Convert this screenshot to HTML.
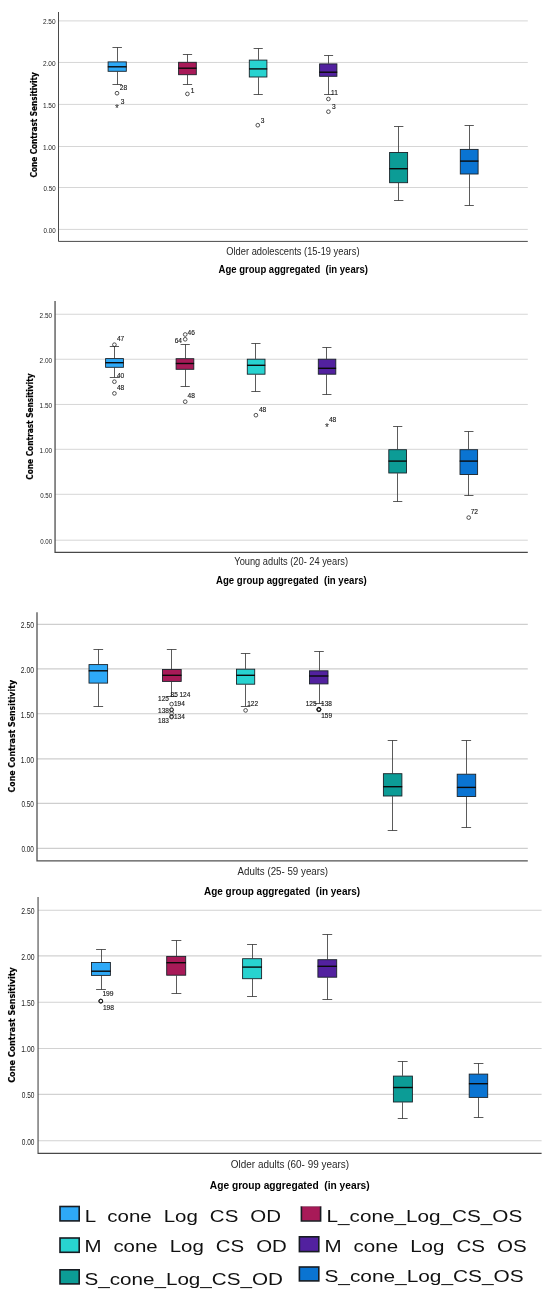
<!DOCTYPE html>
<html lang="en"><head><meta charset="utf-8"><title>Cone Contrast Sensitivity by age group</title>
<style>html,body{margin:0;padding:0;background:#fff}svg{display:block}text{font-family:"Liberation Sans", sans-serif}text.yl{font-family:"DejaVu Sans Condensed","DejaVu Sans","Liberation Sans",sans-serif}</style></head><body>
<svg width="550" height="1297" viewBox="0 0 550 1297">
<rect width="550" height="1297" fill="#fff"/>
<g>
<line x1="58.5" y1="229.40" x2="527.8" y2="229.40" stroke="#d6d6d6" stroke-width="1.00"/>
<text x="43.5" y="232.60" font-size="7.3" fill="#1c1c1c" textLength="12.1" lengthAdjust="spacingAndGlyphs">0.00</text>
<line x1="58.5" y1="187.50" x2="527.8" y2="187.50" stroke="#d6d6d6" stroke-width="1.00"/>
<text x="43.5" y="190.70" font-size="7.3" fill="#1c1c1c" textLength="12.1" lengthAdjust="spacingAndGlyphs">0.50</text>
<line x1="58.5" y1="146.50" x2="527.8" y2="146.50" stroke="#d6d6d6" stroke-width="1.00"/>
<text x="42.9" y="149.70" font-size="7.3" fill="#1c1c1c" textLength="12.7" lengthAdjust="spacingAndGlyphs">1.00</text>
<line x1="58.5" y1="104.40" x2="527.8" y2="104.40" stroke="#d6d6d6" stroke-width="1.00"/>
<text x="42.9" y="107.60" font-size="7.3" fill="#1c1c1c" textLength="12.7" lengthAdjust="spacingAndGlyphs">1.50</text>
<line x1="58.5" y1="62.45" x2="527.8" y2="62.45" stroke="#d6d6d6" stroke-width="1.00"/>
<text x="42.9" y="65.65" font-size="7.3" fill="#1c1c1c" textLength="12.7" lengthAdjust="spacingAndGlyphs">2.00</text>
<line x1="58.5" y1="20.90" x2="527.8" y2="20.90" stroke="#d6d6d6" stroke-width="1.00"/>
<text x="42.9" y="24.10" font-size="7.3" fill="#1c1c1c" textLength="12.7" lengthAdjust="spacingAndGlyphs">2.50</text>
<path d="M58.50 12.00V241.40H527.80" fill="none" stroke="#4a4a4a" stroke-width="1.00"/>
<path d="M117.50 47.50V61.60M117.50 71.60V84.50M112.46 47.50H121.94M112.46 84.50H121.94" stroke="#2c2c2c" stroke-width="0.78" fill="none"/>
<rect x="108.10" y="61.90" width="18.20" height="9.40" fill="#2ea9f7" stroke="#1a2228" stroke-width="0.9"/>
<line x1="107.80" y1="66.80" x2="126.60" y2="66.80" stroke="#0a0a0a" stroke-width="1.4"/>
<path d="M187.50 54.50V62.00M187.50 75.00V84.50M182.89 54.50H192.11M182.89 84.50H192.11" stroke="#2c2c2c" stroke-width="0.78" fill="none"/>
<rect x="178.60" y="62.30" width="17.70" height="12.40" fill="#a81a58" stroke="#1a2228" stroke-width="0.9"/>
<line x1="178.30" y1="68.20" x2="196.60" y2="68.20" stroke="#0a0a0a" stroke-width="1.4"/>
<path d="M258.50 48.50V59.80M258.50 77.30V94.50M253.61 48.50H262.79M253.61 94.50H262.79" stroke="#2c2c2c" stroke-width="0.78" fill="none"/>
<rect x="249.30" y="60.10" width="17.60" height="16.90" fill="#28d3d0" stroke="#1a2228" stroke-width="0.9"/>
<line x1="249.00" y1="68.90" x2="267.20" y2="68.90" stroke="#0a0a0a" stroke-width="1.4"/>
<path d="M328.50 55.50V63.60M328.50 76.60V94.50M324.09 55.50H333.11M324.09 94.50H333.11" stroke="#2c2c2c" stroke-width="0.78" fill="none"/>
<rect x="319.60" y="63.90" width="17.30" height="12.40" fill="#52219f" stroke="#1a2228" stroke-width="0.9"/>
<line x1="319.30" y1="72.20" x2="337.20" y2="72.20" stroke="#0a0a0a" stroke-width="1.4"/>
<path d="M398.50 126.50V152.20M398.50 183.00V200.50M394.01 126.50H403.39M394.01 200.50H403.39" stroke="#2c2c2c" stroke-width="0.78" fill="none"/>
<rect x="389.60" y="152.50" width="18.00" height="30.20" fill="#0c9c96" stroke="#1a2228" stroke-width="0.9"/>
<line x1="389.30" y1="168.70" x2="407.90" y2="168.70" stroke="#0a0a0a" stroke-width="1.4"/>
<path d="M469.50 125.50V149.10M469.50 174.30V205.50M464.56 125.50H473.84M464.56 205.50H473.84" stroke="#2c2c2c" stroke-width="0.78" fill="none"/>
<rect x="460.30" y="149.40" width="17.80" height="24.60" fill="#0a74d2" stroke="#1a2228" stroke-width="0.9"/>
<line x1="460.00" y1="161.10" x2="478.40" y2="161.10" stroke="#0a0a0a" stroke-width="1.4"/>
<circle cx="117.00" cy="93.20" r="1.85" fill="none" stroke="#2a2a2a" stroke-width="0.8"/>
<text x="119.80" y="89.85" font-size="7.39" fill="#161616" stroke="#161616" stroke-width="0.14" textLength="7.34" lengthAdjust="spacingAndGlyphs">28</text>
<text x="117.00" y="111.90" font-size="10" text-anchor="middle" fill="#222">*</text>
<text x="120.70" y="103.65" font-size="7.39" fill="#161616" stroke="#161616" stroke-width="0.14" textLength="3.67" lengthAdjust="spacingAndGlyphs">3</text>
<circle cx="187.40" cy="93.90" r="1.85" fill="none" stroke="#2a2a2a" stroke-width="0.8"/>
<text x="190.80" y="92.65" font-size="7.39" fill="#161616" stroke="#161616" stroke-width="0.14" textLength="3.67" lengthAdjust="spacingAndGlyphs">1</text>
<circle cx="257.80" cy="125.20" r="1.85" fill="none" stroke="#2a2a2a" stroke-width="0.8"/>
<text x="260.70" y="123.25" font-size="7.39" fill="#161616" stroke="#161616" stroke-width="0.14" textLength="3.67" lengthAdjust="spacingAndGlyphs">3</text>
<circle cx="328.40" cy="99.00" r="1.85" fill="none" stroke="#2a2a2a" stroke-width="0.8"/>
<text x="331.10" y="95.45" font-size="7.39" fill="#161616" stroke="#161616" stroke-width="0.14" textLength="6.85" lengthAdjust="spacingAndGlyphs">11</text>
<circle cx="328.40" cy="111.70" r="1.85" fill="none" stroke="#2a2a2a" stroke-width="0.8"/>
<text x="332.10" y="109.45" font-size="7.39" fill="#161616" stroke="#161616" stroke-width="0.14" textLength="3.67" lengthAdjust="spacingAndGlyphs">3</text>
<text x="226.3" y="254.7" font-size="10.8" fill="#262626" textLength="133.2" lengthAdjust="spacingAndGlyphs">Older adolescents (15-19 years)</text>
<text x="218.6" y="272.7" font-size="11.1" font-weight="bold" fill="#000" textLength="149.3" lengthAdjust="spacingAndGlyphs" style="white-space:pre">Age group aggregated  (in years)</text>
<text transform="translate(37.3 177.5) rotate(-90)" font-size="8.1" class="yl" font-weight="bold" fill="#000" stroke="#000" stroke-width="0.15" textLength="105.3" lengthAdjust="spacingAndGlyphs">Cone Contrast Sensitivity</text>
</g>
<g>
<line x1="55.0" y1="540.20" x2="527.8" y2="540.20" stroke="#d6d6d6" stroke-width="1.00"/>
<text x="40.2" y="543.50" font-size="8.1" fill="#1c1c1c" textLength="12.0" lengthAdjust="spacingAndGlyphs">0.00</text>
<line x1="55.0" y1="494.30" x2="527.8" y2="494.30" stroke="#d6d6d6" stroke-width="1.00"/>
<text x="40.2" y="497.60" font-size="8.1" fill="#1c1c1c" textLength="12.0" lengthAdjust="spacingAndGlyphs">0.50</text>
<line x1="55.0" y1="449.30" x2="527.8" y2="449.30" stroke="#d6d6d6" stroke-width="1.00"/>
<text x="39.6" y="452.60" font-size="8.1" fill="#1c1c1c" textLength="12.6" lengthAdjust="spacingAndGlyphs">1.00</text>
<line x1="55.0" y1="404.45" x2="527.8" y2="404.45" stroke="#d6d6d6" stroke-width="1.00"/>
<text x="39.6" y="407.75" font-size="8.1" fill="#1c1c1c" textLength="12.6" lengthAdjust="spacingAndGlyphs">1.50</text>
<line x1="55.0" y1="359.25" x2="527.8" y2="359.25" stroke="#d6d6d6" stroke-width="1.00"/>
<text x="39.6" y="362.55" font-size="8.1" fill="#1c1c1c" textLength="12.6" lengthAdjust="spacingAndGlyphs">2.00</text>
<line x1="55.0" y1="314.25" x2="527.8" y2="314.25" stroke="#d6d6d6" stroke-width="1.00"/>
<text x="39.6" y="317.55" font-size="8.1" fill="#1c1c1c" textLength="12.6" lengthAdjust="spacingAndGlyphs">2.50</text>
<path d="M55.05 301.00V552.40H527.80" fill="none" stroke="#484848" stroke-width="1.25"/>
<path d="M114.50 346.50V358.30M114.50 367.60V377.50M109.76 346.50H119.04M109.76 377.50H119.04" stroke="#2c2c2c" stroke-width="0.78" fill="none"/>
<rect x="105.60" y="358.60" width="17.80" height="8.70" fill="#2ea9f7" stroke="#1a2228" stroke-width="0.9"/>
<line x1="105.30" y1="362.70" x2="123.70" y2="362.70" stroke="#0a0a0a" stroke-width="1.4"/>
<path d="M185.50 344.50V358.40M185.50 369.60V386.50M180.59 344.50H189.81M180.59 386.50H189.81" stroke="#2c2c2c" stroke-width="0.78" fill="none"/>
<rect x="176.10" y="358.70" width="17.70" height="10.60" fill="#a81a58" stroke="#1a2228" stroke-width="0.9"/>
<line x1="175.80" y1="363.50" x2="194.10" y2="363.50" stroke="#0a0a0a" stroke-width="1.4"/>
<path d="M255.50 343.50V358.90M255.50 374.50V391.50M251.29 343.50H260.51M251.29 391.50H260.51" stroke="#2c2c2c" stroke-width="0.78" fill="none"/>
<rect x="247.30" y="359.20" width="17.70" height="15.00" fill="#28d3d0" stroke="#1a2228" stroke-width="0.9"/>
<line x1="247.00" y1="365.30" x2="265.30" y2="365.30" stroke="#0a0a0a" stroke-width="1.4"/>
<path d="M326.50 347.50V358.90M326.50 374.50V394.50M322.34 347.50H331.46M322.34 394.50H331.46" stroke="#2c2c2c" stroke-width="0.78" fill="none"/>
<rect x="318.30" y="359.20" width="17.50" height="15.00" fill="#52219f" stroke="#1a2228" stroke-width="0.9"/>
<line x1="318.00" y1="368.30" x2="336.10" y2="368.30" stroke="#0a0a0a" stroke-width="1.4"/>
<path d="M397.50 426.50V449.40M397.50 473.30V501.50M393.09 426.50H402.31M393.09 501.50H402.31" stroke="#2c2c2c" stroke-width="0.78" fill="none"/>
<rect x="388.80" y="449.70" width="17.70" height="23.30" fill="#0c9c96" stroke="#1a2228" stroke-width="0.9"/>
<line x1="388.50" y1="461.10" x2="406.80" y2="461.10" stroke="#0a0a0a" stroke-width="1.4"/>
<path d="M468.50 431.50V449.40M468.50 474.80V495.50M464.31 431.50H473.49M464.31 495.50H473.49" stroke="#2c2c2c" stroke-width="0.78" fill="none"/>
<rect x="460.00" y="449.70" width="17.60" height="24.80" fill="#0a74d2" stroke="#1a2228" stroke-width="0.9"/>
<line x1="459.70" y1="461.10" x2="477.90" y2="461.10" stroke="#0a0a0a" stroke-width="1.4"/>
<circle cx="114.40" cy="344.70" r="1.85" fill="none" stroke="#2a2a2a" stroke-width="0.8"/>
<text x="116.90" y="340.75" font-size="7.39" fill="#161616" stroke="#161616" stroke-width="0.14" textLength="7.34" lengthAdjust="spacingAndGlyphs">47</text>
<circle cx="114.40" cy="381.70" r="1.85" fill="none" stroke="#2a2a2a" stroke-width="0.8"/>
<text x="116.90" y="378.25" font-size="7.39" fill="#161616" stroke="#161616" stroke-width="0.14" textLength="7.34" lengthAdjust="spacingAndGlyphs">40</text>
<circle cx="114.40" cy="393.40" r="1.85" fill="none" stroke="#2a2a2a" stroke-width="0.8"/>
<text x="116.90" y="389.95" font-size="7.39" fill="#161616" stroke="#161616" stroke-width="0.14" textLength="7.34" lengthAdjust="spacingAndGlyphs">48</text>
<circle cx="185.20" cy="334.50" r="1.85" fill="none" stroke="#2a2a2a" stroke-width="0.8"/>
<text x="187.50" y="335.35" font-size="7.39" fill="#161616" stroke="#161616" stroke-width="0.14" textLength="7.34" lengthAdjust="spacingAndGlyphs">46</text>
<circle cx="185.20" cy="339.30" r="1.85" fill="none" stroke="#2a2a2a" stroke-width="0.8"/>
<text x="174.70" y="343.05" font-size="7.39" fill="#161616" stroke="#161616" stroke-width="0.14" textLength="7.34" lengthAdjust="spacingAndGlyphs">64</text>
<circle cx="185.20" cy="401.70" r="1.85" fill="none" stroke="#2a2a2a" stroke-width="0.8"/>
<text x="187.50" y="398.25" font-size="7.39" fill="#161616" stroke="#161616" stroke-width="0.14" textLength="7.34" lengthAdjust="spacingAndGlyphs">48</text>
<circle cx="255.90" cy="415.20" r="1.85" fill="none" stroke="#2a2a2a" stroke-width="0.8"/>
<text x="258.90" y="411.95" font-size="7.39" fill="#161616" stroke="#161616" stroke-width="0.14" textLength="7.34" lengthAdjust="spacingAndGlyphs">48</text>
<text x="326.90" y="430.90" font-size="10" text-anchor="middle" fill="#222">*</text>
<text x="328.90" y="421.85" font-size="7.39" fill="#161616" stroke="#161616" stroke-width="0.14" textLength="7.34" lengthAdjust="spacingAndGlyphs">48</text>
<circle cx="468.70" cy="517.60" r="1.85" fill="none" stroke="#2a2a2a" stroke-width="0.8"/>
<text x="470.70" y="513.65" font-size="7.39" fill="#161616" stroke="#161616" stroke-width="0.14" textLength="7.34" lengthAdjust="spacingAndGlyphs">72</text>
<text x="234.3" y="565.0" font-size="10.7" fill="#262626" textLength="113.7" lengthAdjust="spacingAndGlyphs">Young adults (20- 24 years)</text>
<text x="216.0" y="584.0" font-size="10.8" font-weight="bold" fill="#000" textLength="150.7" lengthAdjust="spacingAndGlyphs" style="white-space:pre">Age group aggregated  (in years)</text>
<text transform="translate(33.2 479.7) rotate(-90)" font-size="8.2" class="yl" font-weight="bold" fill="#000" stroke="#000" stroke-width="0.15" textLength="106.2" lengthAdjust="spacingAndGlyphs">Cone Contrast Sensitivity</text>
</g>
<g>
<line x1="37.0" y1="848.45" x2="527.8" y2="848.45" stroke="#cecece" stroke-width="1.20"/>
<text x="21.4" y="852.35" font-size="8.3" fill="#1c1c1c" textLength="12.5" lengthAdjust="spacingAndGlyphs">0.00</text>
<line x1="37.0" y1="803.35" x2="527.8" y2="803.35" stroke="#cecece" stroke-width="1.20"/>
<text x="21.4" y="807.25" font-size="8.3" fill="#1c1c1c" textLength="12.5" lengthAdjust="spacingAndGlyphs">0.50</text>
<line x1="37.0" y1="758.90" x2="527.8" y2="758.90" stroke="#cecece" stroke-width="1.20"/>
<text x="20.8" y="762.80" font-size="8.3" fill="#1c1c1c" textLength="13.1" lengthAdjust="spacingAndGlyphs">1.00</text>
<line x1="37.0" y1="713.75" x2="527.8" y2="713.75" stroke="#cecece" stroke-width="1.20"/>
<text x="20.8" y="717.65" font-size="8.3" fill="#1c1c1c" textLength="13.1" lengthAdjust="spacingAndGlyphs">1.50</text>
<line x1="37.0" y1="668.90" x2="527.8" y2="668.90" stroke="#cecece" stroke-width="1.20"/>
<text x="20.8" y="672.80" font-size="8.3" fill="#1c1c1c" textLength="13.1" lengthAdjust="spacingAndGlyphs">2.00</text>
<line x1="37.0" y1="624.30" x2="527.8" y2="624.30" stroke="#cecece" stroke-width="1.20"/>
<text x="20.8" y="628.20" font-size="8.3" fill="#1c1c1c" textLength="13.1" lengthAdjust="spacingAndGlyphs">2.50</text>
<path d="M37.00 612.30V860.95H527.80" fill="none" stroke="#525252" stroke-width="1.30"/>
<path d="M98.50 649.50V664.30M98.50 683.40V706.50M93.46 649.50H103.14M93.46 706.50H103.14" stroke="#2c2c2c" stroke-width="0.78" fill="none"/>
<rect x="89.00" y="664.60" width="18.60" height="18.50" fill="#2ea9f7" stroke="#1a2228" stroke-width="0.9"/>
<line x1="88.70" y1="670.80" x2="107.90" y2="670.80" stroke="#0a0a0a" stroke-width="1.4"/>
<path d="M171.50 649.50V669.20M171.50 681.70V696.50M166.84 649.50H176.56M166.84 696.50H176.56" stroke="#2c2c2c" stroke-width="0.78" fill="none"/>
<rect x="162.50" y="669.50" width="18.70" height="11.90" fill="#a81a58" stroke="#1a2228" stroke-width="0.9"/>
<line x1="162.20" y1="675.30" x2="181.50" y2="675.30" stroke="#0a0a0a" stroke-width="1.4"/>
<path d="M245.50 653.50V668.90M245.50 684.50V706.50M240.86 653.50H250.34M240.86 706.50H250.34" stroke="#2c2c2c" stroke-width="0.78" fill="none"/>
<rect x="236.50" y="669.20" width="18.20" height="15.00" fill="#28d3d0" stroke="#1a2228" stroke-width="0.9"/>
<line x1="236.20" y1="675.30" x2="255.00" y2="675.30" stroke="#0a0a0a" stroke-width="1.4"/>
<path d="M319.50 651.50V670.50M319.50 684.20V703.50M314.19 651.50H323.81M314.19 703.50H323.81" stroke="#2c2c2c" stroke-width="0.78" fill="none"/>
<rect x="309.50" y="670.80" width="18.50" height="13.10" fill="#52219f" stroke="#1a2228" stroke-width="0.9"/>
<line x1="309.20" y1="676.00" x2="328.30" y2="676.00" stroke="#0a0a0a" stroke-width="1.4"/>
<path d="M392.50 740.50V773.40M392.50 796.30V830.50M387.69 740.50H397.31M387.69 830.50H397.31" stroke="#2c2c2c" stroke-width="0.78" fill="none"/>
<rect x="383.40" y="773.70" width="18.50" height="22.30" fill="#0c9c96" stroke="#1a2228" stroke-width="0.9"/>
<line x1="383.10" y1="786.70" x2="402.20" y2="786.70" stroke="#0a0a0a" stroke-width="1.4"/>
<path d="M466.50 740.50V773.90M466.50 796.80V827.50M461.49 740.50H471.11M461.49 827.50H471.11" stroke="#2c2c2c" stroke-width="0.78" fill="none"/>
<rect x="457.20" y="774.20" width="18.50" height="22.30" fill="#0a74d2" stroke="#1a2228" stroke-width="0.9"/>
<line x1="456.90" y1="787.40" x2="476.00" y2="787.40" stroke="#0a0a0a" stroke-width="1.4"/>
<circle cx="171.60" cy="704.10" r="1.85" fill="none" stroke="#2a2a2a" stroke-width="0.8"/>
<text x="174.00" y="705.91" font-size="7.28" fill="#161616" stroke="#161616" stroke-width="0.14" textLength="10.84" lengthAdjust="spacingAndGlyphs">194</text>
<circle cx="171.60" cy="709.60" r="1.85" fill="none" stroke="#2a2a2a" stroke-width="0.8"/>
<text x="158.10" y="713.11" font-size="7.28" fill="#161616" stroke="#161616" stroke-width="0.14" textLength="10.84" lengthAdjust="spacingAndGlyphs">138</text>
<circle cx="171.60" cy="710.10" r="1.85" fill="none" stroke="#2a2a2a" stroke-width="0.8"/>
<circle cx="171.60" cy="713.30" r="1.85" fill="none" stroke="#2a2a2a" stroke-width="0.8"/>
<circle cx="171.60" cy="716.50" r="1.85" fill="none" stroke="#2a2a2a" stroke-width="0.8"/>
<text x="174.00" y="719.11" font-size="7.28" fill="#161616" stroke="#161616" stroke-width="0.14" textLength="10.84" lengthAdjust="spacingAndGlyphs">134</text>
<circle cx="171.60" cy="717.10" r="1.85" fill="none" stroke="#2a2a2a" stroke-width="0.8"/>
<text x="158.10" y="723.01" font-size="7.28" fill="#161616" stroke="#161616" stroke-width="0.14" textLength="10.84" lengthAdjust="spacingAndGlyphs">183</text>
<text x="170.60" y="696.51" font-size="7.28" fill="#161616" stroke="#161616" stroke-width="0.14" textLength="7.23" lengthAdjust="spacingAndGlyphs">85</text>
<text x="179.50" y="697.21" font-size="7.28" fill="#161616" stroke="#161616" stroke-width="0.14" textLength="10.84" lengthAdjust="spacingAndGlyphs">124</text>
<text x="158.10" y="700.81" font-size="7.28" fill="#161616" stroke="#161616" stroke-width="0.14" textLength="10.84" lengthAdjust="spacingAndGlyphs">125</text>
<circle cx="245.60" cy="710.40" r="1.85" fill="none" stroke="#2a2a2a" stroke-width="0.8"/>
<text x="247.20" y="706.41" font-size="7.28" fill="#161616" stroke="#161616" stroke-width="0.14" textLength="10.84" lengthAdjust="spacingAndGlyphs">122</text>
<circle cx="318.90" cy="709.20" r="1.9" fill="none" stroke="#1a1a1a" stroke-width="0.95"/>
<text x="305.70" y="705.71" font-size="7.28" fill="#161616" stroke="#161616" stroke-width="0.14" textLength="10.84" lengthAdjust="spacingAndGlyphs">125</text>
<circle cx="318.90" cy="709.50" r="1.9" fill="none" stroke="#1a1a1a" stroke-width="0.95"/>
<text x="321.10" y="705.71" font-size="7.28" fill="#161616" stroke="#161616" stroke-width="0.14" textLength="10.84" lengthAdjust="spacingAndGlyphs">138</text>
<circle cx="318.90" cy="709.80" r="1.9" fill="none" stroke="#1a1a1a" stroke-width="0.95"/>
<text x="321.20" y="717.51" font-size="7.28" fill="#161616" stroke="#161616" stroke-width="0.14" textLength="10.84" lengthAdjust="spacingAndGlyphs">159</text>
<text x="237.6" y="874.7" font-size="11.2" fill="#262626" textLength="90.5" lengthAdjust="spacingAndGlyphs">Adults (25- 59 years)</text>
<text x="204.0" y="895.0" font-size="11.0" font-weight="bold" fill="#000" textLength="156.2" lengthAdjust="spacingAndGlyphs" style="white-space:pre">Age group aggregated  (in years)</text>
<text transform="translate(14.5 792.5) rotate(-90)" font-size="9.0" class="yl" font-weight="bold" fill="#000" stroke="#000" stroke-width="0.15" textLength="112.5" lengthAdjust="spacingAndGlyphs">Cone Contrast Sensitivity</text>
</g>
<g>
<line x1="38.0" y1="1140.75" x2="541.6" y2="1140.75" stroke="#d2d2d2" stroke-width="1.10"/>
<text x="21.8" y="1144.65" font-size="8.2" fill="#1c1c1c" textLength="12.7" lengthAdjust="spacingAndGlyphs">0.00</text>
<line x1="38.0" y1="1094.35" x2="541.6" y2="1094.35" stroke="#d2d2d2" stroke-width="1.10"/>
<text x="21.8" y="1098.25" font-size="8.2" fill="#1c1c1c" textLength="12.7" lengthAdjust="spacingAndGlyphs">0.50</text>
<line x1="38.0" y1="1048.55" x2="541.6" y2="1048.55" stroke="#d2d2d2" stroke-width="1.10"/>
<text x="21.2" y="1052.45" font-size="8.2" fill="#1c1c1c" textLength="13.3" lengthAdjust="spacingAndGlyphs">1.00</text>
<line x1="38.0" y1="1002.25" x2="541.6" y2="1002.25" stroke="#d2d2d2" stroke-width="1.10"/>
<text x="21.2" y="1006.15" font-size="8.2" fill="#1c1c1c" textLength="13.3" lengthAdjust="spacingAndGlyphs">1.50</text>
<line x1="38.0" y1="955.85" x2="541.6" y2="955.85" stroke="#d2d2d2" stroke-width="1.10"/>
<text x="21.2" y="959.75" font-size="8.2" fill="#1c1c1c" textLength="13.3" lengthAdjust="spacingAndGlyphs">2.00</text>
<line x1="38.0" y1="910.25" x2="541.6" y2="910.25" stroke="#d2d2d2" stroke-width="1.10"/>
<text x="21.2" y="914.15" font-size="8.2" fill="#1c1c1c" textLength="13.3" lengthAdjust="spacingAndGlyphs">2.50</text>
<path d="M38.05 897.00V1153.40H541.60" fill="none" stroke="#484848" stroke-width="1.10"/>
<path d="M101.50 949.50V962.20M101.50 975.70V989.50M96.09 949.50H105.91M96.09 989.50H105.91" stroke="#2c2c2c" stroke-width="0.78" fill="none"/>
<rect x="91.50" y="962.50" width="18.90" height="12.90" fill="#2ea9f7" stroke="#1a2228" stroke-width="0.9"/>
<line x1="91.20" y1="971.20" x2="110.70" y2="971.20" stroke="#0a0a0a" stroke-width="1.4"/>
<path d="M176.50 940.50V956.10M176.50 975.50V993.50M171.46 940.50H181.34M171.46 993.50H181.34" stroke="#2c2c2c" stroke-width="0.78" fill="none"/>
<rect x="166.70" y="956.40" width="19.00" height="18.80" fill="#a81a58" stroke="#1a2228" stroke-width="0.9"/>
<line x1="166.40" y1="962.70" x2="186.00" y2="962.70" stroke="#0a0a0a" stroke-width="1.4"/>
<path d="M252.50 944.50V958.40M252.50 979.00V996.50M247.06 944.50H256.94M247.06 996.50H256.94" stroke="#2c2c2c" stroke-width="0.78" fill="none"/>
<rect x="242.60" y="958.70" width="19.00" height="20.00" fill="#28d3d0" stroke="#1a2228" stroke-width="0.9"/>
<line x1="242.30" y1="967.10" x2="261.90" y2="967.10" stroke="#0a0a0a" stroke-width="1.4"/>
<path d="M327.50 934.50V959.40M327.50 977.50V999.50M322.41 934.50H332.19M322.41 999.50H332.19" stroke="#2c2c2c" stroke-width="0.78" fill="none"/>
<rect x="317.90" y="959.70" width="18.80" height="17.50" fill="#52219f" stroke="#1a2228" stroke-width="0.9"/>
<line x1="317.60" y1="966.30" x2="337.00" y2="966.30" stroke="#0a0a0a" stroke-width="1.4"/>
<path d="M402.50 1061.50V1075.80M402.50 1102.30V1118.50M397.76 1061.50H407.64M397.76 1118.50H407.64" stroke="#2c2c2c" stroke-width="0.78" fill="none"/>
<rect x="393.40" y="1076.10" width="19.00" height="25.90" fill="#0c9c96" stroke="#1a2228" stroke-width="0.9"/>
<line x1="393.10" y1="1087.50" x2="412.70" y2="1087.50" stroke="#0a0a0a" stroke-width="1.4"/>
<path d="M478.50 1063.50V1073.80M478.50 1097.70V1117.50M473.79 1063.50H483.41M473.79 1117.50H483.41" stroke="#2c2c2c" stroke-width="0.78" fill="none"/>
<rect x="469.20" y="1074.10" width="18.50" height="23.30" fill="#0a74d2" stroke="#1a2228" stroke-width="0.9"/>
<line x1="468.90" y1="1083.70" x2="488.00" y2="1083.70" stroke="#0a0a0a" stroke-width="1.4"/>
<circle cx="100.80" cy="1001.00" r="1.9" fill="none" stroke="#1a1a1a" stroke-width="0.95"/>
<text x="102.40" y="996.49" font-size="7.50" fill="#161616" stroke="#161616" stroke-width="0.14" textLength="11.18" lengthAdjust="spacingAndGlyphs">199</text>
<circle cx="100.80" cy="1001.25" r="1.9" fill="none" stroke="#1a1a1a" stroke-width="0.95"/>
<text x="102.90" y="1009.89" font-size="7.50" fill="#161616" stroke="#161616" stroke-width="0.14" textLength="11.18" lengthAdjust="spacingAndGlyphs">198</text>
<text x="230.8" y="1167.8" font-size="11.4" fill="#262626" textLength="118.3" lengthAdjust="spacingAndGlyphs">Older adults (60- 99 years)</text>
<text x="209.8" y="1189.0" font-size="11.6" font-weight="bold" fill="#000" textLength="159.9" lengthAdjust="spacingAndGlyphs" style="white-space:pre">Age group aggregated  (in years)</text>
<text transform="translate(14.7 1082.8) rotate(-90)" font-size="9.3" class="yl" font-weight="bold" fill="#000" stroke="#000" stroke-width="0.15" textLength="115.6" lengthAdjust="spacingAndGlyphs">Cone Contrast Sensitivity</text>
</g>
<g>
<rect x="60.0" y="1206.5" width="19.2" height="14.4" fill="#2ea9f7" stroke="#171c22" stroke-width="1.6"/>
<text x="84.7" y="1221.5" font-size="15.8" fill="#111" style="word-spacing:4.9px" textLength="196.3" lengthAdjust="spacingAndGlyphs">L cone Log CS OD</text>
<rect x="60.0" y="1238.0" width="19.2" height="14.3" fill="#28d3d0" stroke="#171c22" stroke-width="1.6"/>
<text x="84.4" y="1251.5" font-size="15.8" fill="#111" style="word-spacing:4.9px" textLength="202.4" lengthAdjust="spacingAndGlyphs">M cone Log CS OD</text>
<rect x="60.0" y="1269.8" width="19.2" height="14.1" fill="#0c9c96" stroke="#171c22" stroke-width="1.6"/>
<text x="84.4" y="1284.5" font-size="15.8" fill="#111" style="word-spacing:4.9px" textLength="198.6" lengthAdjust="spacingAndGlyphs">S_cone_Log_CS_OD</text>
<rect x="301.4" y="1206.6" width="19.3" height="14.3" fill="#a81a58"/>
<path d="M301.4 1206.6V1221.0H320.6V1206.6" fill="none" stroke="#171c22" stroke-width="1.6"/>
<line x1="300.6" y1="1206.7" x2="321.4" y2="1206.7" stroke="#5a1a38" stroke-width="0.5"/>
<text x="326.5" y="1221.5" font-size="15.8" fill="#111" style="word-spacing:4.9px" textLength="195.7" lengthAdjust="spacingAndGlyphs">L_cone_Log_CS_OS</text>
<rect x="299.4" y="1236.8" width="19.4" height="14.8" fill="#52219f" stroke="#171c22" stroke-width="1.6"/>
<text x="324.4" y="1251.5" font-size="15.8" fill="#111" style="word-spacing:4.9px" textLength="202.4" lengthAdjust="spacingAndGlyphs">M cone Log CS OS</text>
<rect x="299.4" y="1267.0" width="19.4" height="13.9" fill="#0a74d2" stroke="#171c22" stroke-width="1.6"/>
<text x="324.4" y="1281.5" font-size="15.8" fill="#111" style="word-spacing:4.9px" textLength="199.3" lengthAdjust="spacingAndGlyphs">S_cone_Log_CS_OS</text>
</g>
</svg></body></html>
